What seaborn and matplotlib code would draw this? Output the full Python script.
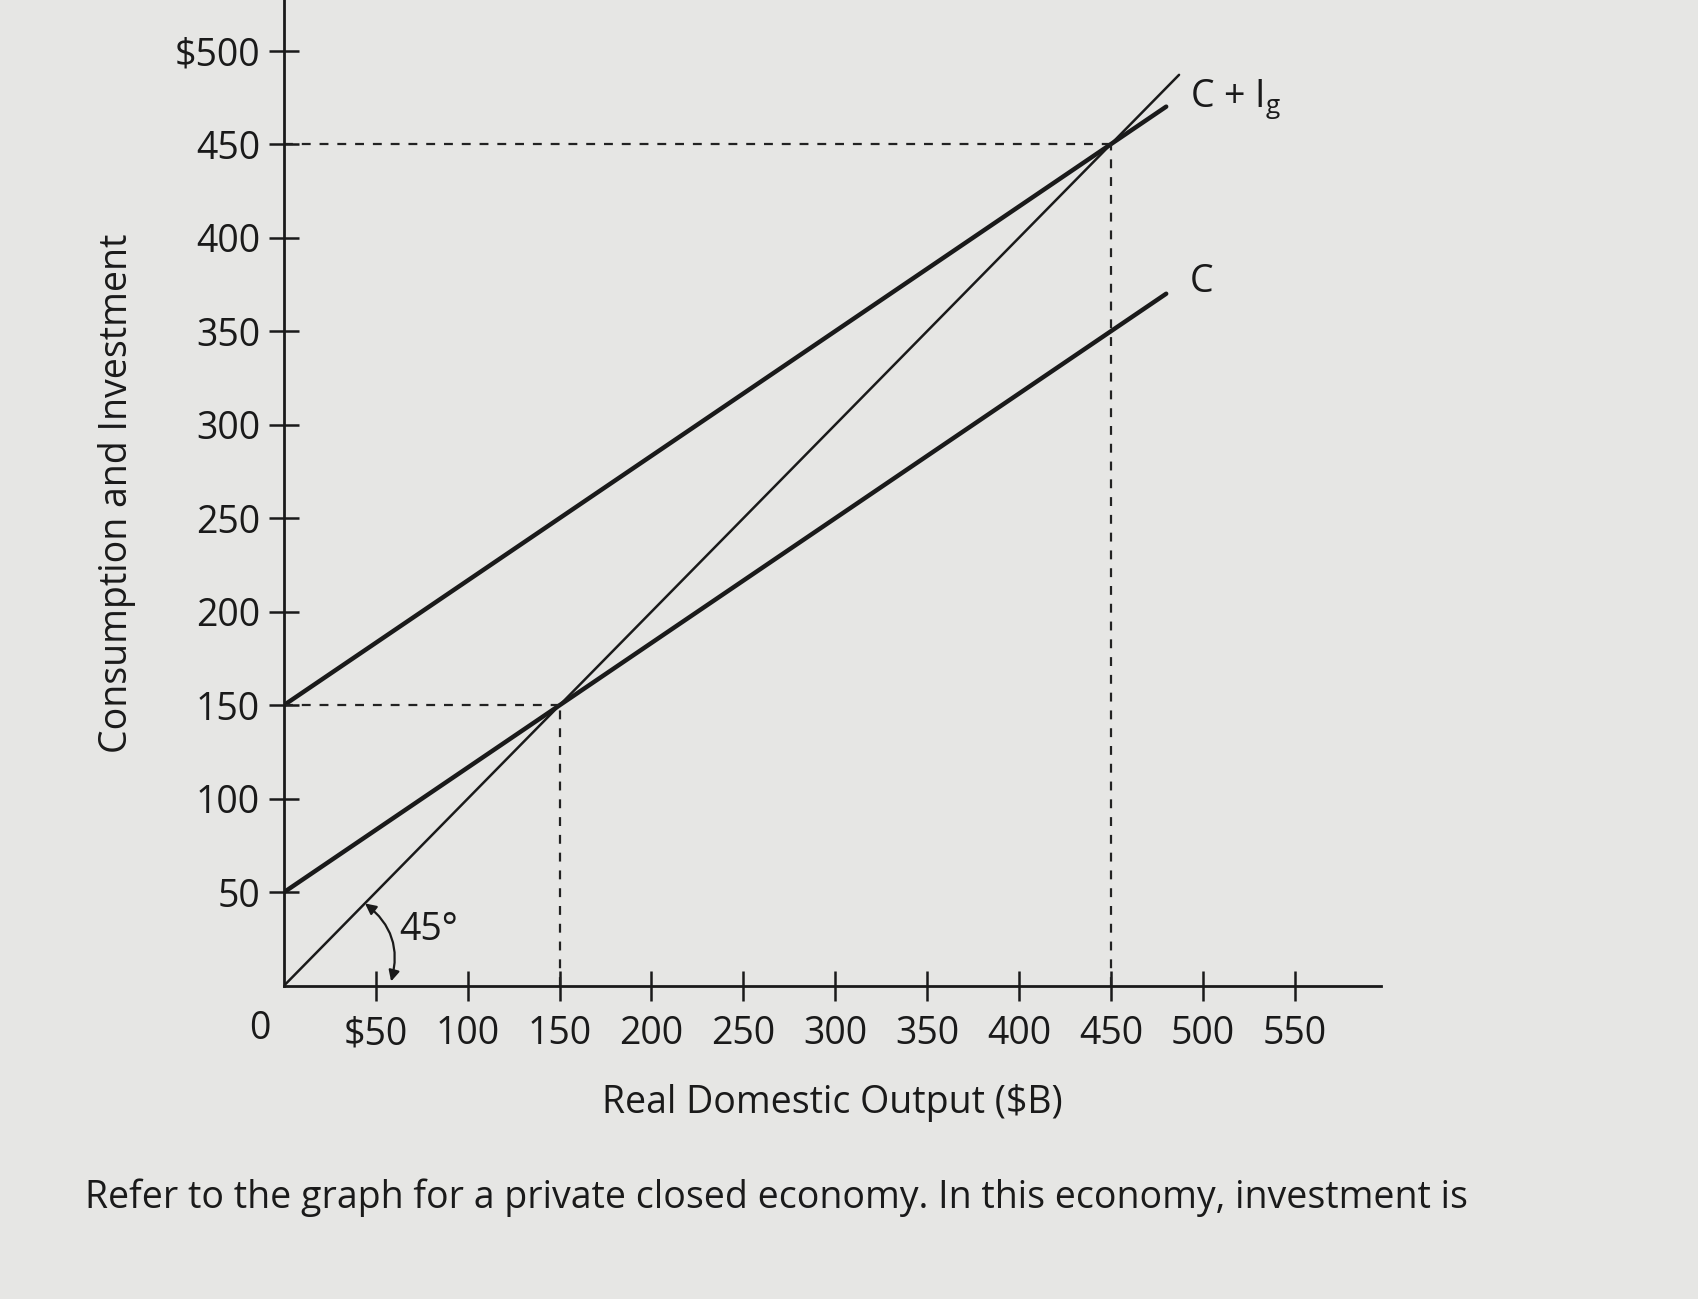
import numpy as np
import pandas as pd
import matplotlib
matplotlib.use('Agg')
import matplotlib.pyplot as plt
from matplotlib.patches import FancyArrowPatch
import seaborn as sns

# Data
output_pts = [0, 487]
line_45 = [0, 487]
output_c = [0, 480]
consumption = [50, 370]
consumption_inv = [150, 470]
x_ticks = [50, 100, 150, 200, 250, 300, 350, 400, 450, 500, 550]
x_labels = ['$50', '100', '150', '200', '250', '300', '350', '400', '450', '500', '550']
y_ticks = [50, 100, 150, 200, 250, 300, 350, 400, 450, 500]
y_labels = ['50', '100', '150', '200', '250', '300', '350', '400', '450', '$500']

sns.set_style('white')
plt.rcParams['font.family'] = ['Open Sans', 'DejaVu Sans']
plt.rcParams['mathtext.fontset'] = 'custom'
plt.rcParams['mathtext.rm'] = 'Open Sans'
bg = '#e6e6e4'

fig = plt.figure(figsize=(16.99, 12.99), dpi=100, facecolor=bg)
ax = fig.add_axes([0.167, 0.241, 0.646, 0.759], facecolor=bg)

df45 = pd.DataFrame({'x': output_pts, 'y': line_45})
dfc = pd.DataFrame({'x': output_c, 'y': consumption})
dfci = pd.DataFrame({'x': output_c, 'y': consumption_inv})
sns.lineplot(data=df45, x='x', y='y', color='#1a1a1a', lw=1.8, ax=ax)
sns.lineplot(data=dfc, x='x', y='y', color='#1a1a1a', lw=3.2, ax=ax)
sns.lineplot(data=dfci, x='x', y='y', color='#1a1a1a', lw=3.2, ax=ax)

dash = dict(color='#222222', lw=1.6, ls=(0, (4, 4)))
ax.plot([0, 450], [450, 450], **dash)
ax.plot([450, 450], [0, 450], **dash)
ax.plot([0, 150], [150, 150], **dash)
ax.plot([150, 150], [0, 150], **dash)

ax.set_xlim(0, 597)
ax.set_ylim(0, 527)
for s in ['top', 'right']:
    ax.spines[s].set_visible(False)
for s in ['left', 'bottom']:
    ax.spines[s].set_color('#1a1a1a')
    ax.spines[s].set_linewidth(2)

ax.set_xticks(x_ticks, x_labels)
ax.set_yticks(y_ticks, y_labels)
ax.tick_params(bottom=True, left=True, direction='inout', length=22, width=1.8,
               labelsize=27, colors='#1a1a1a', pad=6)
ax.tick_params(axis='x', pad=10)
ax.text(-13, -23, '0', fontsize=27, ha='center', va='center', color='#1a1a1a')

ax.set_xlabel('Real Domestic Output ($B)', fontsize=27, labelpad=22, color='#1a1a1a')
ax.set_ylabel('Consumption and Investment', fontsize=27, labelpad=28, color='#1a1a1a')

ax.text(493, 474, r'C + I$_\mathregular{g}$', fontsize=27, va='center', color='#1a1a1a')
ax.text(493, 376, 'C', fontsize=27, va='center', color='#1a1a1a')
ax.text(63, 30, '45°', fontsize=27, va='center', color='#1a1a1a')

arc = FancyArrowPatch((43, 45), (58, 1), connectionstyle='arc3,rad=-0.35',
                      arrowstyle='<|-|>', mutation_scale=16, color='#1a1a1a', lw=1.6)
ax.add_patch(arc)

fig.text(0.05, 0.07, 'Refer to the graph for a private closed economy. In this economy, investment is',
         fontsize=27, color='#1a1a1a')

fig.savefig('out.png', dpi=100, facecolor=bg)
